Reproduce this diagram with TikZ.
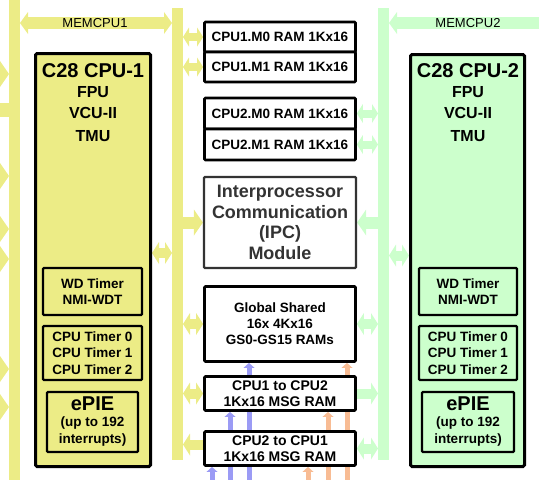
\documentclass[tikz,border=0pt]{standalone}
\usepackage{fontspec}
\setmainfont{Liberation Sans}
\usetikzlibrary{arrows.meta,backgrounds}
\definecolor{yel}{RGB}{236,236,134}
\definecolor{grn}{RGB}{204,255,204}
\definecolor{blu}{RGB}{155,155,245}
\definecolor{org}{RGB}{248,188,148}
\definecolor{ipcgray}{RGB}{51,51,51}
\tikzset{
  cpubox/.style={draw=black, line width=3pt, inner sep=0pt, rounded corners=1.5pt},
  subbox/.style={draw=black, line width=2.2pt, inner sep=0pt, rounded corners=1pt, align=center, font=\bfseries\fontsize{13.5}{16.5}\selectfont},
  rambox/.style={draw=black, line width=2.8pt, fill=white, inner sep=0pt, rounded corners=1pt, minimum width=151pt, align=center, font=\bfseries\fontsize{13.5}{16}\selectfont},
  ipcbox/.style={draw=ipcgray, line width=2.2pt, fill=white, inner sep=0pt, rounded corners=1pt, minimum width=152pt, align=center, text=ipcgray, font=\bfseries\fontsize{18}{20.5}\selectfont},
  txt/.style={anchor=base, inner sep=0pt, font=\bfseries\fontsize{#1}{#1}\selectfont},
  lbl/.style={anchor=base, inner sep=0pt, font=\fontsize{13}{13}\selectfont},
  bus/.style={inner sep=0pt, outer sep=0pt, minimum width=11pt},
  dblS/.style={line width=8pt, arrows={Triangle[width=19pt,length=6pt,line width=0pt]-Triangle[width=19pt,length=6pt,line width=0pt]}},
  dblM/.style={line width=10pt, arrows={Triangle[width=22pt,length=7pt,line width=0pt]-Triangle[width=22pt,length=7pt,line width=0pt]}},
  sglM/.style={line width=10pt, arrows={-Triangle[width=22pt,length=7pt,line width=0pt]}},
  ipcA/.style={line width=12pt, arrows={-Triangle[width=26pt,length=9pt,line width=0pt]}},
  memA/.style={line width=12pt, arrows={Triangle[width=22pt,length=8pt,line width=0pt]-Triangle[width=22pt,length=8pt,line width=0pt]}},
  memB/.style={line width=12pt, arrows={-Triangle[width=22pt,length=8pt,line width=0pt]}},
  edgeA/.style={yel, line width=12pt, arrows={-Triangle[width=26pt,length=9pt,line width=0pt]}},
  thinA/.style={line width=5pt, arrows={-Triangle[width=11pt,length=5pt,line width=0pt]}},
}
\begin{document}
\begin{tikzpicture}[x=1pt,y=-1pt]
\useasboundingbox (0,0) rectangle (539,480);
\clip (0,0) rectangle (539,480);

% CPU boxes
\node[cpubox, fill=yel, minimum width=115pt, minimum height=413pt] (cpu1) at (93,260) {};
\node[cpubox, fill=grn, minimum width=114pt, minimum height=412pt] (cpu2) at (467.5,260.5) {};

\node[txt=20] (t1a) at (93,77) {C28 CPU-1};
\node[txt=16] (t1b) at (93,97) {FPU};
\node[txt=16] (t1c) at (93,118) {VCU-II};
\node[txt=16] (t1d) at (93,141) {TMU};
\node[txt=20] (t2a) at (468,77) {C28 CPU-2};
\node[txt=16] (t2b) at (468,97) {FPU};
\node[txt=16] (t2c) at (468,118) {VCU-II};
\node[txt=16] (t2d) at (468,141) {TMU};

\node[subbox, minimum width=99pt, minimum height=47pt] (wd1) at (92.5,291.5) {WD Timer\\NMI-WDT};
\node[subbox, minimum width=99pt, minimum height=54pt] (tm1) at (92.5,353) {CPU Timer 0\\CPU Timer 1\\CPU Timer 2};
\node[subbox, minimum width=91pt, minimum height=60pt] (pie1) at (92.5,422) {};
\node[txt=20] (p1a) at (92.5,410) {ePIE};
\node[txt=13.5] (p1b) at (92.5,426) {(up to 192};
\node[txt=13.5] (p1c) at (92.5,443) {interrupts)};

\node[subbox, minimum width=98pt, minimum height=47pt] (wd2) at (468,291.5) {WD Timer\\NMI-WDT};
\node[subbox, minimum width=98pt, minimum height=54pt] (tm2) at (468,353) {CPU Timer 0\\CPU Timer 1\\CPU Timer 2};
\node[subbox, minimum width=92pt, minimum height=60pt] (pie2) at (468,422) {};
\node[txt=20] (p2a) at (468,410) {ePIE};
\node[txt=13.5] (p2b) at (468,426) {(up to 192};
\node[txt=13.5] (p2c) at (468,443) {interrupts)};

% central memories
\node[rambox, minimum height=30pt] (m01) at (280,37) {CPU1.M0 RAM 1Kx16};
\node[rambox, minimum height=30pt] (m11) at (280,67) {CPU1.M1 RAM 1Kx16};
\node[rambox, minimum height=31pt] (m02) at (280,113.5) {CPU2.M0 RAM 1Kx16};
\node[rambox, minimum height=31pt] (m12) at (280,144.5) {CPU2.M1 RAM 1Kx16};
\node[ipcbox, minimum height=91pt] (ipc) at (280,222.5) {Interprocessor\\Communication\\(IPC)\\Module};
\node[rambox, minimum height=75pt] (gs) at (280,324) {Global Shared\\16x 4Kx16\\GS0-GS15 RAMs};
\node[rambox, minimum height=34pt, font=\bfseries\fontsize{14}{15.5}\selectfont] (c12) at (280,393.5) {CPU1 to CPU2\\1Kx16 MSG RAM};
\node[rambox, minimum height=34pt, font=\bfseries\fontsize{14}{15.5}\selectfont] (c21) at (280,448.5) {CPU2 to CPU1\\1Kx16 MSG RAM};

\begin{scope}[on background layer]
  % buses
  \node[bus, fill=yel, minimum height=490pt] (barL) at (14.5,240) {};
  \node[bus, fill=yel, minimum height=452pt] (busL) at (177.5,234) {};
  \node[bus, fill=grn, minimum height=452pt] (busR) at (383.5,234) {};
  \fill[yel] (-5,103) rectangle (10,117);

  % arrows entering the left bar from outside
  \foreach \n/\yy in {1/74,2/176,3/229,4/259,5/369,6/407}{
    \coordinate (e\n) at (-12,\yy);
    \draw[edgeA] (e\n) -- (e\n -| barL.west);
  }

  % MEMCPU buses
  \coordinate (mem1) at (95,23);
  \draw[memA, yel] (mem1 -| barL.east) -- (mem1 -| busL.west);
  \coordinate (mem2) at (545,23);
  \draw[memB, grn] (mem2) -- (mem2 -| busR.east);

  % CPU1 side (yellow)
  \draw[dblS, yel] (m01.west -| busL.east) -- (m01.west);
  \draw[dblS, yel] (m11.west -| busL.east) -- (m11.west);
  \draw[ipcA, yel] (ipc.west -| busL.east) -- (ipc.west);
  \coordinate (c1r) at ([yshift=7pt]cpu1.east);
  \draw[dblM, yel] (c1r) -- (c1r -| busL.west);
  \draw[dblM, yel] (gs.west -| busL.east) -- (gs.west);
  \draw[dblM, yel] (c12.west -| busL.east) -- (c12.west);
  \coordinate (c21l) at ([yshift=4pt]c21.west);
  \draw[sglM, yel] (c21l) -- (c21l -| busL.east);

  % CPU2 side (green)
  \draw[dblS, grn] (m02.east -| busR.west) -- (m02.east);
  \draw[dblS, grn] (m12.east -| busR.west) -- (m12.east);
  \draw[ipcA, grn] (ipc.east -| busR.west) -- (ipc.east);
  \coordinate (c2l) at ([yshift=5pt]cpu2.west);
  \draw[dblM, grn] (c2l) -- (c2l -| busR.east);
  \draw[dblM, grn] (gs.east -| busR.west) -- (gs.east);
  \draw[sglM, grn] (c12.east) -- (c12.east -| busR.west);
  \draw[dblM, grn] (c21.east -| busR.west) -- (c21.east);

  % blue and orange feeds from below
  \coordinate (b1) at (212,486);
  \coordinate (b2) at (230,486);
  \coordinate (b3) at (249,486);
  \coordinate (o1) at (308,486);
  \coordinate (o2) at (328,486);
  \coordinate (o3) at (347,486);
  \draw[thinA, blu] (b1) -- (b1 |- c21.south);
  \draw[thinA, blu] (b2) -- (b2 |- c12.south);
  \draw[thinA, blu] (b3) -- (b3 |- gs.south);
  \draw[thinA, org] (o1) -- (o1 |- c21.south);
  \draw[thinA, org] (o2) -- (o2 |- c12.south);
  \draw[thinA, org] (o3) -- (o3 |- gs.south);
\end{scope}

\node[lbl] (mem1t) at (95,27) {MEMCPU1};
\node[lbl] (mem2t) at (468,27) {MEMCPU2};
\end{tikzpicture}
\end{document}
